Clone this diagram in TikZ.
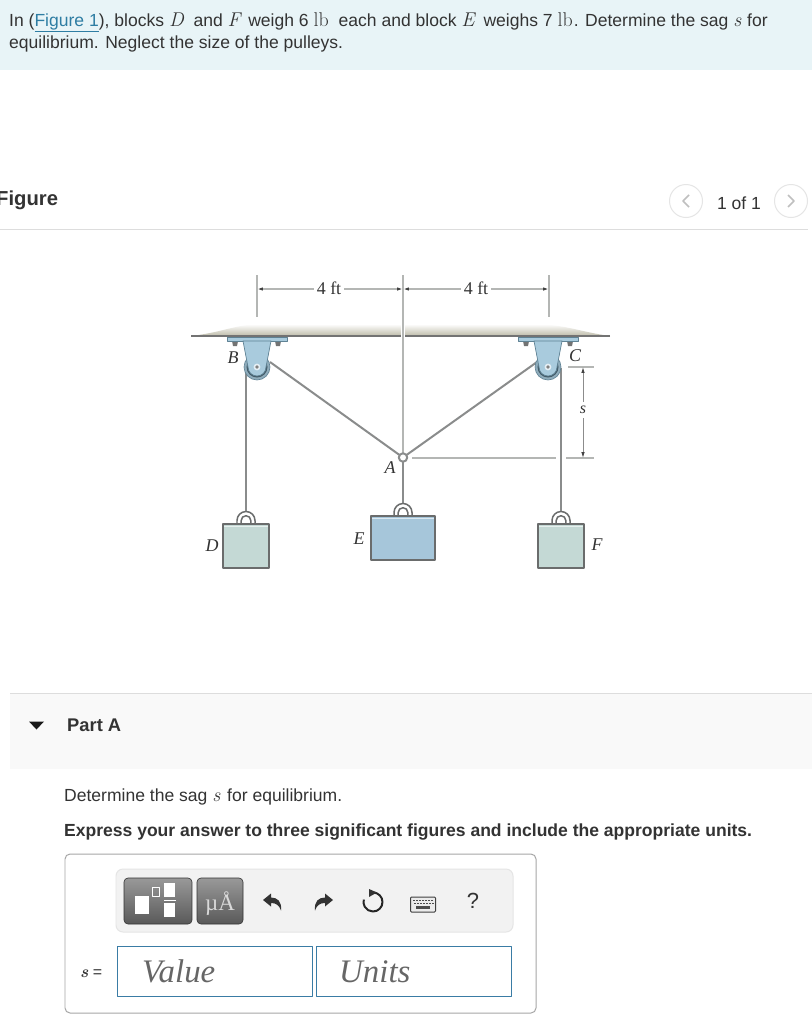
\documentclass[tikz,border=0pt]{standalone}
\usepackage{fontspec}
\setmainfont{Liberation Sans}
\newfontfamily\tms{Liberation Serif}
\newfontfamily\lmr{Latin Modern Roman}
\newcommand{\mvar}[1]{{\lmr\itshape\fontsize{20}{20}\selectfont #1}}
\newcommand{\mrm}[1]{{\lmr\fontsize{20}{20}\selectfont #1}}
\usetikzlibrary{arrows.meta}
\definecolor{banner}{HTML}{E8F4F7}
\definecolor{ink}{HTML}{333333}
\definecolor{rulegray}{HTML}{DDDDDD}
\definecolor{rope}{HTML}{8A8C8C}
\definecolor{dimgray}{HTML}{B4B6B4}
\definecolor{steel}{HTML}{A9CBDD}
\definecolor{steeldark}{HTML}{5F8294}
\definecolor{blockE}{HTML}{A6C6DA}
\definecolor{blockD}{HTML}{C4D9D5}
\definecolor{blockedge}{HTML}{6A6C6C}
\definecolor{link}{HTML}{2E7DA3}
\definecolor{field}{HTML}{3A7CA5}
\definecolor{ceilshade}{HTML}{BDBBA8}
\tikzset{
  txt/.style={anchor=base west,inner sep=0pt,text=ink,font=\fontsize{17.6}{20}\selectfont},
  bigtxt/.style={txt,font=\fontsize{17.6}{20}\selectfont\bfseries},
  lbl/.style={inner sep=0pt,text=ink,font=\tms\itshape\fontsize{18}{20}\selectfont},
  dimtxt/.style={inner sep=0pt,text=ink,font=\tms\fontsize{18}{20}\selectfont},
  dimline/.style={draw=dimgray,line width=1.4pt},
  dimarrow/.style={dimline,-{Latex[length=6pt,width=3.5pt,black!75]}},
  ropeline/.style={draw=rope,line width=2pt},
  blockbox/.style={draw=blockedge,line width=1.6pt,inner sep=0pt},
  navdot/.style={circle,draw=black!10,line width=1pt,fill=white,minimum size=33bp,inner sep=0pt},
  chev/.style={draw=black!25,line width=1.5pt},
  toolbtn/.style={rounded corners=4bp,draw=black!80,line width=.6pt,top color=black!40,bottom color=black!65},
  inputbox/.style={draw=field,line width=1pt,fill=white},
  hint/.style={anchor=base west,inner sep=0pt,text=black!60,font=\tms\itshape\fontsize{33}{36}\selectfont},
  toolicon/.style={fill=black!80,draw=none},
}
\begin{document}
\begin{tikzpicture}[x=1bp,y=-1bp,line join=round]
\useasboundingbox (0,0) rectangle (812,1024);
\fill[white] (0,0) rectangle (812,1024);
\begin{scope}
\clip (0,0) rectangle (812,1024);
% banner
\fill[banner] (0,0) rectangle (812,70);
\node[txt] (line1) at (9,26) {In (\textcolor{link}{\underline{Figure 1}}), blocks \mvar{D}\hspace{5bp} and \mvar{F}\hspace{3bp} weigh 6 \mrm{lb}\hspace{5bp} each and block \mvar{E}\hspace{4bp} weighs 7 \mrm{lb}\hspace{1bp}. Determine the sag \mvar{s}\hspace{1bp} for};
\node[txt] (line2) at (9,48) {equilibrium. Neglect the size of the pulleys.};
% figure heading
\node[txt,font=\fontsize{20.3}{24}\selectfont\bfseries] (figure) at (-4,205) {Figure};
\draw[rulegray,line width=1pt] (0,229) -- (808,229);
\node[navdot] (prev) at (686,201) {};
\node[navdot] (next) at (791,201) {};
\draw[chev] (689,195) -- (683,201) -- (689,207);
\draw[chev] (788,195) -- (794,201) -- (788,207);
\node[txt,anchor=center] (pager) at (739,203.5) {1 of 1};
% ceiling
\shade[top color=white,bottom color=ceilshade] (191,336) .. controls (225,332) and (235,324) .. (265,324) -- (530,324) .. controls (565,324) and (580,332) .. (610,336) -- cycle;
\coordinate (ceilL) at (191,336);
\coordinate (ceilR) at (610,336);
\draw[black!55,line width=1.8pt] (ceilL) -- (ceilR);
% guide coordinates
\coordinate (A) at (403,457.5);
\coordinate (Bout) at (270,362);
\coordinate (Cout) at (537,362);
\coordinate (Bdrop) at (246,368);
\coordinate (Cdrop) at (561,368);
\coordinate (Dtop) at (246,512);
\coordinate (Etop) at (403,504);
\coordinate (Ftop) at (561,512);
% dimensions
\coordinate (dL) at (257,289);
\coordinate (dM) at (403,289);
\coordinate (dR) at (549,289);
\draw[dimline] (257,275) -- (257,317);
\draw[dimline] (549,275) -- (549,317);
\draw[white,line width=4pt] (403,325) -- (403,340);
\draw[dimline] (403,275) -- (A);
\node[dimtxt] (ft1) at (329,288) {4 ft};
\node[dimtxt] (ft2) at (476,288) {4 ft};
\draw[dimarrow] (ft1.west)++(-3,1) -- (dL);
\draw[dimarrow] (ft1.east)++(3,1) -- (dM);
\draw[dimarrow] (ft2.west)++(-3,1) -- (dM);
\draw[dimarrow] (ft2.east)++(3,1) -- (dR);
\draw[dimline] (412,458) -- (556,458);
\draw[dimline] (566,458) -- (594,458);
\draw[dimline] (568,367) -- (594,367);
\node[lbl,font=\tms\itshape\fontsize{16}{18}\selectfont] (s) at (583,410) {s};
\draw[draw=black!45,line width=.9pt,-{Latex[length=6pt,width=3.5pt,black!75]}] (s.north)++(0,-4) -- (583,367);
\draw[draw=black!45,line width=.9pt,-{Latex[length=6pt,width=3.5pt,black!75]}] (s.south)++(0,4) -- (583,458);
% ropes
\draw[ropeline] (Bout) -- (A);
\draw[ropeline] (Cout) -- (A);
\draw[ropeline] (Bdrop) -- (Dtop);
\draw[ropeline] (Cdrop) -- (Ftop);
\draw[ropeline] (A) -- (Etop);
\draw[draw=rope,fill=white,line width=2pt] (A) circle[radius=4.2];
% pulleys and brackets
\foreach \px/\pl/\pr/\bl/\br in {257/227/287/235/278, 548/518/578/526/570}{
  \fill[black!55] (\bl-3,341) -- (\bl+3,341) -- (\bl+2,346) -- (\bl-2,346) -- cycle;
  \fill[black!55] (\br-3,341) -- (\br+3,341) -- (\br+2,346) -- (\br-2,346) -- cycle;
  \fill[steel,draw=steeldark,line width=.7pt] (\pl,337) rectangle (\pr,341);
  \fill[steel!85!black,draw=steeldark,line width=.6pt] (\px,367) circle[radius=13];
  \fill[steeldark!70!black] (\px,367) circle[radius=10.5];
  \fill[steel,draw=steeldark,line width=.7pt] (\px-14,341) -- (\px+14,341) -- (\px+9,367) arc[start angle=0,end angle=180,radius=9] -- cycle;
  \fill[white!70!steel] (\px,367) circle[radius=3.4];
  \fill[black!50] (\px,367) circle[radius=1.8];
}
% hooks and blocks
\foreach \hx/\hy in {246/524, 403/516, 561/524}{
  \draw[draw=blockedge,fill=white,line width=1.5pt] (\hx-9,\hy) -- (\hx-9,\hy-3.5) arc[start angle=180,end angle=360,radius=9] -- (\hx+9,\hy);
  \draw[draw=blockedge,line width=1.5pt] (\hx-4.8,\hy) -- (\hx-4.8,\hy-3.5) arc[start angle=180,end angle=360,radius=4.8] -- (\hx+4.8,\hy);
}
\draw[blockbox,fill=blockD] (223,524) rectangle (269,568);
\draw[blockbox,fill=blockE] (371,516) rectangle (435,560);
\draw[blockbox,fill=blockD] (538,524) rectangle (584,568);
\draw[white!60!blockD,line width=1pt] (224,526) -- (268,526);
\draw[white!60!blockE,line width=1pt] (372,518) -- (434,518);
\draw[white!60!blockD,line width=1pt] (539,526) -- (583,526);
\node[lbl] (lA) at (390,468) {A};
\node[lbl] (lB) at (233,358) {B};
\node[lbl] (lC) at (575,356) {C};
\node[lbl] (lD) at (212,546) {D};
\node[lbl] (lE) at (359,539) {E};
\node[lbl] (lF) at (597,545) {F};
% part A
\fill[black!2.5] (10,693) rectangle (812,769);
\draw[rulegray,line width=1pt] (10,693) -- (812,693);
\fill[black!90] (29,721.5) -- (44,721.5) -- (36.5,729.5) -- cycle;
\node[bigtxt,font=\fontsize{18.4}{20}\selectfont\bfseries] (part) at (67,731) {Part A};
\node[txt] (det) at (64,801) {Determine the sag \mvar{s}\hspace{2bp} for equilibrium.};
\node[bigtxt] (expr) at (64,836) {Express your answer to three significant figures and include the appropriate units.};
% answer panel
\draw[black!35,line width=1pt,rounded corners=5bp] (65,854) rectangle (536,1013);
\draw[black!10,fill=black!5,line width=1pt,rounded corners=7bp] (116,869) rectangle (513,932);
\draw[toolbtn] (124,878) rectangle (192,924);
\draw[toolbtn] (197,878) rectangle (243,924);
\fill[white] (135,896) rectangle (149,914);
\draw[white,line width=.8pt] (152,887) rectangle (159,896);
\fill[white] (164,883) rectangle (175,897);
\fill[white] (164,899.5) rectangle (176,900.5);
\fill[white] (164,903) rectangle (175,917);
\node[inner sep=0pt,text=black!15,font=\tms\fontsize{23}{24}\selectfont] (mu) at (220,904) {µÅ};
% undo
\fill[toolicon] (263,900) -- (271,893.5) -- (271,897.5) .. controls (277,897.5) and (282,901) .. (281,910.5) .. controls (279,905) and (276,903) .. (271,903) -- (271,906.5) -- cycle;
% redo
\fill[toolicon] (333,900) -- (325,893.5) -- (325,897.5) .. controls (319,897.5) and (314,901) .. (315,910.5) .. controls (317,905) and (320,903) .. (325,903) -- (325,906.5) -- cycle;
% reset
\draw[black!85,line width=2pt] (373,892.5) arc[start angle=270,end angle=555,radius=9.5];
\fill[toolicon] (369,889) -- (377,892.5) -- (369,897) -- cycle;
% keyboard
\draw[black!75,fill=black!8,line width=1pt,rounded corners=1bp] (410.5,897) rectangle (435.5,912);
\foreach \kx in {413,416,...,431}{
  \fill[black!70] (\kx,899.5) rectangle (\kx+2,901);
  \fill[black!70] (\kx+1,902.5) rectangle (\kx+3,904);
}
\fill[black!70] (416,906) rectangle (430,908.5);
\node[inner sep=0pt,text=ink,font=\fontsize{22}{24}\selectfont] (help) at (473,901) {?};
% inputs
\node[txt,anchor=base west,font=\fontsize{16}{16}\selectfont] (seq) at (80,977) {{\lmr\itshape\bfseries\fontsize{17}{16}\selectfont s} =};
\draw[inputbox] (117,946) rectangle (312,996);
\draw[inputbox] (316,946) rectangle (511,996);
\node[hint] (val) at (142,982) {Value};
\node[hint] (unit) at (339,982) {Units};
\end{scope}
\end{tikzpicture}
\end{document}
